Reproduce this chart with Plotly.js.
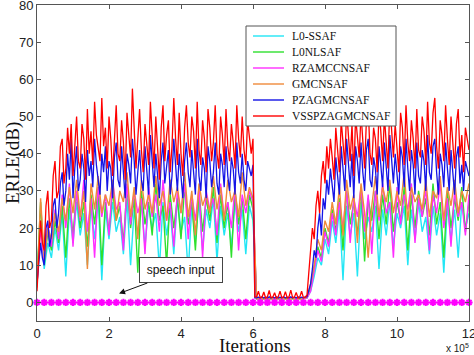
<!DOCTYPE html>
<html>
<head>
<meta charset="utf-8">
<script src="https://cdn.plot.ly/plotly-3.0.1.min.js"></script>
<style>html,body{margin:0;padding:0;background:#fff;}#chart{width:474px;height:355px;}</style>
</head>
<body>
<div id="chart"></div>
<script>
// Iterations in units of 10^5
const xStep = 0.1;      // sampling of the four lower curves
const xStepFine = 0.05; // sampling of the two upper curves

const l0ssaf = [8,22,9,16,12,20,14,24,7,25,16,27,18,24,10,26,17,28,6,25,17,27,19,23,13,28,10,25,18,27,15,26,20,24,9,27,18,25,13,28,19,23,8,26,17,27,14,25,20,28,11,26,18,24,15,27,19,25,13,26,22,
1,1,1,1,1,1,1,1,1,1,1,1,1,1,1.2,3,7,12,10,17,13,22,16,25,6,26,18,24,7,27,17,23,19,26,9,25,18,27,15,24,20,26,10,25,17,27,19,23,13,26,18,24,8,26,17,25,12,27,20,24];

const l0nlsaf = [6,27,10,19,14,22,16,26,12,28,18,30,20,27,15,29,21,31,10,27,19,30,22,26,16,31,20,28,8,30,21,27,18,32,22,26,10,29,20,28,17,31,21,27,14,30,19,28,22,31,16,29,20,27,12,30,21,28,17,29,25,
1,1,1,1,1,1,1,1,1,1,1,1,1,1,1.3,4,9,15,12,20,16,25,19,28,14,30,21,27,18,31,11,28,22,30,17,29,21,32,19,27,22,31,14,29,20,30,23,28,18,32,21,27,12,30,20,28,22,31,19,27];

const rzamccnsaf = [5,20,11,21,15,25,17,29,20,32,15,30,22,33,19,28,12,31,23,29,18,33,25,27,14,32,21,30,24,28,13,31,23,29,19,33,22,27,15,30,24,32,17,29,22,31,12,30,25,28,18,32,23,27,20,31,14,29,24,30,27,
1,1,1,1,1,1,1,1,1,1,1,1,1,1,1.2,3,8,14,11,19,15,24,18,27,20,30,16,28,23,31,19,29,13,30,22,32,24,27,12,31,21,29,25,32,16,28,23,31,14,29,24,32,20,28,15,30,23,27,18,29];

const gmcnsaf = [4,28,12,20,17,24,19,28,22,31,24,33,23,30,9,32,25,34,24,29,26,33,22,30,27,35,23,31,17,33,25,29,24,34,26,30,22,33,27,31,24,35,23,30,18,32,26,29,24,34,25,31,22,33,27,30,23,35,26,31,28,
1,1,1,1,1,1,1,1,1,1,1,1,1,1,1.5,5,10,17,14,22,19,27,21,31,18,33,25,29,16,32,24,12,26,34,23,31,27,33,24,30,26,35,22,31,27,29,25,33,23,30,28,34,22,31,26,33,24,30,27,32];

const pzagmcnsaf = [5,10,16,12,10,20,22,15,18,26,28,
20,24,32,35,26,30,40,33,44,28,
36,42,30,33,40,36,27,41,34,38,
31,44,37,33,29,40,35,42,30,38,
36,28,39,43,33,31,42,35,28,40,
37,32,44,38,29,35,41,33,30,42,
36,29,45,37,31,40,34,28,38,43,
32,36,41,29,34,44,37,30,40,33,
28,38,43,35,31,41,36,29,44,34,
30,39,36,28,42,38,31,35,43,32,
29,40,37,31,42,34,30,39,36,29,
43,35,32,40,33,30,38,36,34,37,
1.2,
1.2,1.4,1.2,1.5,1.2,1.4,1.2,1.5,1.2,1.4,1.2,1.5,1.2,1.4,1.2,1.5,1.2,1.4,1.2,1.5,1.2,1.4,1.2,1.5,1.2,1.4,1.2,1.5,
1.5,
3,5,9,14,12,20,24,18,28,25,
33,29,36,31,27,39,34,29,42,36,
30,44,37,31,40,28,42,38,32,43,
35,30,41,44,33,31,39,36,29,42,
37,31,43,35,30,45,38,32,40,34,
29,42,39,31,44,36,30,41,37,29,
43,34,32,41,38,30,45,35,33,42,
44,35,29,40,37,31,43,36,30,41,
35,29,39,42,32,37,30,38,36,34];

const vsspzagmcnsaf = [3,12,22,16,14,26,30,20,22,34,38,
28,30,42,44,32,36,47,40,48,34,
42,50,38,36,48,44,33,52,40,46,
37,54,45,41,38,55,42,47,36,50,
44,34,46,53,40,38,49,43,33,51,
45,39,57.5,48,36,44,52,41,35,48,
43,37,54,46,36,50,42,33,47,53,
38,45,49,35,42,55,44,37,51,40,
34,47,53,43,39,50,46,36,54,41,
37,49,44,35,52,47,38,43,53,40,
36,50,45,37,52,42,38,48,43,36,
53,44,39,50,41,37,49,45,40,44,
1.5,
1.5,3,1.3,1.4,2.8,1.2,1.5,3.2,1.3,1.4,2.6,1.2,1.5,3,1.3,1.4,2.9,1.2,1.5,3.3,1.3,1.4,2.7,1.2,1.5,3,1.3,1.4,
2,
8,14,20,17,26,30,24,34,38,32,
42,36,44,39,33,47,41,35,49,43,
37,52,44,38,48,34,50,45,39,51,
42,36,49,53,40,37,47,44,35,52,
46,38,50,42,36,54,45,39,48,41,
35,51,47,37,53,43,38,49,44,36,
52,41,39,50,46,37,54,43,40,51,
55,42,36,49,45,38,53,44,37,50,
43,36,48,52,39,45,35,47,44,41];

const speechLevel = 0;
const speechStep = 0.2;

const names = ['L0-SSAF','L0NLSAF','RZAMCCNSAF','GMCNSAF','PZAGMCNSAF','VSSPZAGMCNSAF'];
const colors = ['#22E6F5','#2EE02E','#FF2EFF','#F08A3A','#1414E6','#FF0000'];
const series = [l0ssaf, l0nlsaf, rzamccnsaf, gmcnsaf, pzagmcnsaf, vsspzagmcnsaf];
const steps = [xStep, xStep, xStep, xStep, xStepFine, xStepFine];

const traces = series.map((ys, k) => ({
  x: ys.map((_, i) => +(i * steps[k]).toFixed(3)),
  y: ys,
  type: 'scatter', mode: 'lines', name: names[k], showlegend: false,
  line: {color: colors[k], width: k >= 4 ? 1.3 : 1.4}
}));

const sx = [];
for (let v = 0; v <= 12.0001; v += speechStep) sx.push(+v.toFixed(2));
traces.push({
  x: sx, y: sx.map(() => speechLevel),
  type: 'scatter', mode: 'lines+markers', showlegend: false,
  line: {color: '#FF00FF', width: 1.5},
  marker: {symbol: 'asterisk-open', size: 6, color: '#FF00FF', line: {color: '#FF00FF', width: 2}},
  cliponaxis: false
});

// plot area in pixels: x 37..469, y 5..321
const PL = 37, PR = 469, PT = 5, PB = 321;
const px = v => (v - PL) / (PR - PL);
const py = v => (PB - v) / (PB - PT);

const axisCommon = {
  showline: true, mirror: 'ticks', linecolor: '#555', linewidth: 1,
  ticks: 'inside', ticklen: 4, tickcolor: '#555', showgrid: false, zeroline: false,
  ticklabeloverflow: 'allow',
  tickfont: {family: 'Liberation Sans, Arial, sans-serif', size: 13, color: '#222'}
};

const serif = 'Liberation Serif, Times New Roman, serif';
const shapes = [
  {type: 'rect', xref: 'paper', yref: 'paper', x0: px(246), x1: px(396), y0: py(126), y1: py(26),
   line: {color: '#555', width: 1}, fillcolor: '#fff', layer: 'above'}
];
const annotations = [
  {xref: 'paper', yref: 'paper', x: px(13), y: 0.5, xanchor: 'center', yanchor: 'middle', text: 'ERLE(dB)', textangle: -90, showarrow: false,
   font: {family: serif, size: 19, color: '#111'}},
  {xref: 'paper', yref: 'paper', x: px(255), y: py(345), xanchor: 'center', yanchor: 'middle', text: 'Iterations', showarrow: false,
   font: {family: serif, size: 19, color: '#111'}},
  {xref: 'paper', yref: 'paper', x: px(471), y: py(348), xanchor: 'right', yanchor: 'middle', text: 'x 10<sup>5</sup>', showarrow: false,
   font: {family: 'Liberation Sans, Arial, sans-serif', size: 10, color: '#222'}},
  {x: 2.28, y: 2.4, xref: 'x', yref: 'y', text: 'speech input', showarrow: true,
   ax: 62, ay: -23, arrowhead: 2, arrowsize: 1.2, arrowwidth: 1, arrowcolor: '#111',
   bordercolor: '#444', borderwidth: 1, bgcolor: '#fff', width: 78, height: 20, borderpad: 2, align: 'center',
   font: {family: 'Liberation Sans, Arial, sans-serif', size: 12, color: '#111'}}
];
names.forEach((n, k) => {
  const yy = 36 + 16 * k;
  shapes.push({type: 'line', xref: 'paper', yref: 'paper', x0: px(253), x1: px(284), y0: py(yy), y1: py(yy),
    line: {color: colors[k], width: 1.4}, layer: 'above'});
  annotations.push({xref: 'paper', yref: 'paper', x: px(290), y: py(yy), xanchor: 'left', yanchor: 'middle',
    text: n, showarrow: false, font: {family: serif, size: 11.5, color: '#111'}});
});

const layout = {
  width: 474, height: 355,
  margin: {l: PL, r: 474 - PR, t: PT, b: 355 - PB},
  paper_bgcolor: '#fff', plot_bgcolor: '#fff',
  showlegend: false,
  xaxis: Object.assign({}, axisCommon, {range: [0, 12], tickvals: [0,2,4,6,8,10,12], ticktext: ['0','2','4','6','8','10','12']}),
  yaxis: Object.assign({}, axisCommon, {range: [-5, 80], tickvals: [0,10,20,30,40,50,60,70,80]}),
  shapes: shapes,
  annotations: annotations
};

Plotly.newPlot('chart', traces, layout, {displayModeBar: false, staticPlot: true});
</script>
</body>
</html>
